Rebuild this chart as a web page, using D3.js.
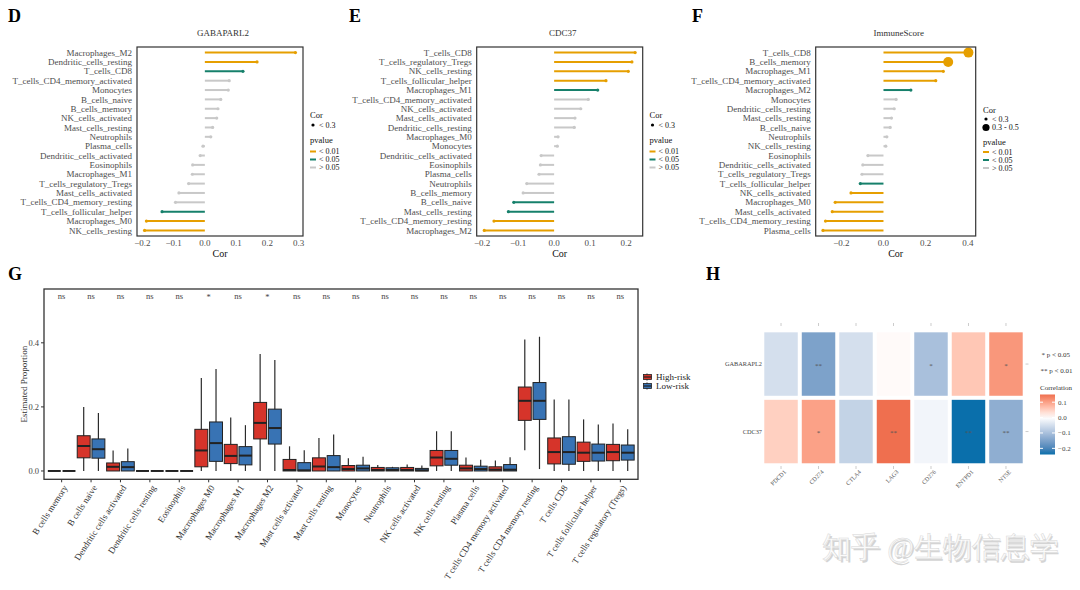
<!DOCTYPE html>
<html>
<head>
<meta charset="utf-8">
<script src="https://cdn.jsdelivr.net/npm/d3@7"></script>
<style>
  body { margin: 0; background: #fff; }
  svg text { font-family: "Liberation Serif", "DejaVu Serif", serif; }
</style>
</head>
<body>
<script>
// ---- data ----
const P1 = "< 0.01", P2 = "< 0.05", P3 = "> 0.05";

const dCells = ["Macrophages_M2", "Dendritic_cells_resting", "T_cells_CD8", "T_cells_CD4_memory_activated",
  "Monocytes", "B_cells_naive", "B_cells_memory", "NK_cells_activated", "Mast_cells_resting", "Neutrophils",
  "Plasma_cells", "Dendritic_cells_activated", "Eosinophils", "Macrophages_M1", "T_cells_regulatory_Tregs",
  "Mast_cells_activated", "T_cells_CD4_memory_resting", "T_cells_follicular_helper", "Macrophages_M0", "NK_cells_resting"];
const dCor = [0.29, 0.167, 0.122, 0.078, 0.075, 0.051, 0.042, 0.038, 0.025, 0.019,
  -0.006, -0.015, -0.039, -0.040, -0.052, -0.083, -0.094, -0.137, -0.187, -0.193];
const dP = [P1, P1, P2, P3, P3, P3, P3, P3, P3, P3, P3, P3, P3, P3, P3, P3, P3, P2, P1, P1];

const eCells = ["T_cells_CD8", "T_cells_regulatory_Tregs", "NK_cells_resting", "T_cells_follicular_helper",
  "Macrophages_M1", "T_cells_CD4_memory_activated", "NK_cells_activated", "Mast_cells_activated",
  "Dendritic_cells_resting", "Macrophages_M0", "Monocytes", "Dendritic_cells_activated", "Eosinophils",
  "Plasma_cells", "Neutrophils", "B_cells_memory", "B_cells_naive", "Mast_cells_resting",
  "T_cells_CD4_memory_resting", "Macrophages_M2"];
const eCor = [0.225, 0.216, 0.206, 0.144, 0.121, 0.095, 0.074, 0.058, 0.056, 0.011,
  0.009, -0.036, -0.038, -0.042, -0.076, -0.086, -0.112, -0.127, -0.167, -0.194];
const eP = [P1, P1, P1, P1, P2, P3, P3, P3, P3, P3, P3, P3, P3, P3, P3, P3, P2, P2, P1, P1];

const fCells = ["T_cells_CD8", "B_cells_memory", "Macrophages_M1", "T_cells_CD4_memory_activated",
  "Macrophages_M2", "Monocytes", "Dendritic_cells_resting", "Mast_cells_resting", "B_cells_naive",
  "Neutrophils", "NK_cells_resting", "Eosinophils", "Dendritic_cells_activated", "T_cells_regulatory_Tregs",
  "T_cells_follicular_helper", "NK_cells_activated", "Macrophages_M0", "Mast_cells_activated",
  "T_cells_CD4_memory_resting", "Plasma_cells"];
const fCor = [0.403, 0.307, 0.284, 0.248, 0.130, 0.060, 0.051, 0.038, 0.032, 0.016,
  0.011, -0.074, -0.098, -0.102, -0.110, -0.154, -0.229, -0.243, -0.275, -0.287];
const fP = [P1, P1, P1, P1, P2, P3, P3, P3, P3, P3, P3, P3, P3, P3, P2, P1, P1, P1, P1, P1];

const gCells = ["B cells memory", "B cells naive", "Dendritic cells activated", "Dendritic cells resting",
  "Eosinophils", "Macrophages M0", "Macrophages M1", "Macrophages M2", "Mast cells activated",
  "Mast cells resting", "Monocytes", "Neutrophils", "NK cells activated", "NK cells resting", "Plasma cells",
  "T cells CD4 memory activated", "T cells CD4 memory resting", "T cells CD8", "T cells follicular helper",
  "T cells regulatory (Tregs)"];
// [min, q1, median, q3, max]
const gHigh = [[0, 0, 0, 0, 0.002], [0, 0.041, 0.078, 0.110, 0.200], [0, 0, 0.013, 0.025, 0.064],
  [0, 0, 0, 0, 0.001], [0, 0, 0, 0, 0.001], [0, 0.013, 0.064, 0.130, 0.290], [0, 0.023, 0.047, 0.083, 0.167],
  [0, 0.100, 0.150, 0.214, 0.365], [0, 0, 0.003, 0.036, 0.077], [0, 0, 0.014, 0.041, 0.103],
  [0, 0, 0.006, 0.017, 0.040], [0, 0, 0.003, 0.011, 0.019], [0, 0, 0.003, 0.011, 0.020],
  [0, 0.016, 0.042, 0.064, 0.124], [0, 0, 0.008, 0.018, 0.042], [0, 0, 0.004, 0.013, 0.033],
  [0.065, 0.158, 0.219, 0.262, 0.410], [0, 0.022, 0.059, 0.103, 0.223], [0, 0.030, 0.057, 0.090, 0.161],
  [0, 0.032, 0.059, 0.083, 0.148]];
const gLow = [[0, 0, 0, 0, 0.001], [0, 0.040, 0.068, 0.100, 0.181], [0, 0, 0.012, 0.029, 0.070],
  [0, 0, 0, 0, 0.001], [0, 0, 0, 0, 0.001], [0, 0.030, 0.087, 0.153, 0.318], [0, 0.019, 0.048, 0.076, 0.143],
  [0, 0.084, 0.134, 0.193, 0.346], [0, 0, 0.002, 0.026, 0.065], [0, 0, 0.012, 0.048, 0.114],
  [0, 0, 0.008, 0.018, 0.044], [0, 0, 0.003, 0.010, 0.013], [0, 0, 0.002, 0.008, 0.017],
  [0, 0.018, 0.038, 0.064, 0.124], [0, 0, 0.006, 0.015, 0.035], [0, 0, 0.004, 0.020, 0.043],
  [0.006, 0.161, 0.219, 0.276, 0.419], [0, 0.021, 0.059, 0.107, 0.223], [0, 0.031, 0.057, 0.084, 0.145],
  [0, 0.034, 0.057, 0.081, 0.130]];
const gSig = ["ns", "ns", "ns", "ns", "ns", "*", "ns", "*", "ns", "ns",
  "ns", "ns", "ns", "ns", "ns", "ns", "ns", "ns", "ns", "ns"];
const gGroups = ["High-risk", "Low-risk"];
const gTicks = [0, 0.2, 0.4];

const hGenes = ["PDCD1", "CD274", "CTLA4", "LAG3", "CD276", "ENTPD1", "NT5E"];
const hRows = ["GABARAPL2", "CDC37"];
const hCor = [[-0.05, -0.15, -0.05, 0.005, -0.10, 0.06, 0.11],
              [0.05, 0.10, -0.07, 0.15, -0.015, -0.24, -0.13]];
const hStar = [["", "**", "", "", "*", "", "*"],
               ["", "*", "", "**", "", "**", "**"]];
const hLegTicks = [0.1, 0, -0.1, -0.2];

// ---- drawing ----
const W = 1080, H = 590;
const svg = d3.select("body").append("svg").attr("width", W).attr("height", H);
svg.append("rect").attr("width", W).attr("height", H).attr("fill", "#fff");

const pColor = { [P1]: "#E69F00", [P2]: "#16806b", [P3]: "#c8c8c8" };
const fmt = d3.format(".1f");

function lollipop(o) {
  const g = svg.append("g");
  const ext = d3.extent(o.cor.concat(0));
  const pad = (ext[1] - ext[0]) * 0.05;
  const x = d3.scaleLinear().domain([ext[0] - pad, ext[1] + pad]).range([o.left, o.right]);
  const y = d3.scalePoint().domain(o.cells).range([o.top, o.bottom]).padding(0.6);
  const rows = o.cells.map((c, i) => ({ cell: c, cor: o.cor[i], p: o.pval[i] }));

  g.selectAll(".bar").data(rows).enter().append("line")
    .attr("x1", x(0)).attr("x2", d => x(d.cor))
    .attr("y1", d => y(d.cell)).attr("y2", d => y(d.cell))
    .attr("stroke", d => pColor[d.p]).attr("stroke-width", 2);
  g.selectAll(".dot").data(rows).enter().append("circle")
    .attr("cx", d => x(d.cor)).attr("cy", d => y(d.cell))
    .attr("r", d => Math.abs(d.cor) >= 0.3 ? 5 : 1.6)
    .attr("fill", d => pColor[d.p]);

  g.append("rect")
    .attr("x", o.left).attr("y", o.top)
    .attr("width", o.right - o.left).attr("height", o.bottom - o.top)
    .attr("fill", "none").attr("stroke", "#333").attr("stroke-width", 1.2);

  g.selectAll(".lab").data(rows).enter().append("text")
    .attr("x", o.left - 5).attr("y", d => y(d.cell)).attr("dy", "0.35em")
    .attr("text-anchor", "end").attr("font-size", 9).attr("fill", "#4d4d4d")
    .text(d => d.cell);

  g.selectAll(".tick").data(o.ticks).enter().append("text")
    .attr("x", d => x(d)).attr("y", o.bottom + 10)
    .attr("text-anchor", "middle").attr("font-size", 9).attr("fill", "#4d4d4d")
    .text(d => fmt(d));

  g.append("text").attr("x", (o.left + o.right) / 2).attr("y", o.bottom + 21)
    .attr("text-anchor", "middle").attr("font-size", 10).attr("fill", "#111").text("Cor");
  g.append("text").attr("x", (o.left + o.right) / 2 + 3).attr("y", o.top - 11)
    .attr("text-anchor", "middle").attr("font-size", 9).attr("fill", "#333").text(o.title);

  // legend
  const lx = o.legX, l = o.leg;
  g.append("text").attr("x", lx).attr("y", l.cor + 3).attr("font-size", 8.5).attr("fill", "#111").text("Cor");
  l.sizes.forEach(s => {
    g.append("circle").attr("cx", lx + 3).attr("cy", s.y).attr("r", s.r).attr("fill", "#000");
    g.append("text").attr("x", lx + 9).attr("y", s.y + 2.8).attr("font-size", 8).attr("fill", "#111").text(s.label);
  });
  g.append("text").attr("x", lx).attr("y", l.pv + 3).attr("font-size", 8.5).attr("fill", "#111").text("pvalue");
  [P1, P2, P3].forEach((p, i) => {
    const yy = l.rows[i];
    g.append("line").attr("x1", lx).attr("x2", lx + 6).attr("y1", yy).attr("y2", yy)
      .attr("stroke", pColor[p]).attr("stroke-width", 2);
    g.append("text").attr("x", lx + 9).attr("y", yy + 2.8).attr("font-size", 8).attr("fill", "#111").text(p);
  });
}

lollipop({ cells: dCells, cor: dCor, pval: dP, left: 137, right: 303, top: 47, bottom: 236,
  title: "GABAPARL2", ticks: [-0.2, -0.1, 0, 0.1, 0.2, 0.3], legX: 310,
  leg: { cor: 115, sizes: [{ y: 125, r: 1.6, label: "< 0.3" }], pv: 140, rows: [151.5, 159.5, 167.5] } });
lollipop({ cells: eCells, cor: eCor, pval: eP, left: 476.7, right: 642.7, top: 47, bottom: 236,
  title: "CDC37", ticks: [-0.2, -0.1, 0, 0.1, 0.2], legX: 649.5,
  leg: { cor: 115, sizes: [{ y: 125, r: 1.6, label: "< 0.3" }], pv: 140, rows: [151.5, 159.5, 167.5] } });
lollipop({ cells: fCells, cor: fCor, pval: fP, left: 815.7, right: 975.7, top: 47, bottom: 236,
  title: "ImmuneScore", ticks: [-0.2, 0, 0.2, 0.4], legX: 983,
  leg: { cor: 109.5, sizes: [{ y: 119, r: 1.6, label: "< 0.3" }, { y: 127.5, r: 3.6, label: "0.3 - 0.5" }],
    pv: 142, rows: [152, 160, 168] } });

// ---- panel G: box plots ----
const gLeft = 44, gRight = 638, gTop = 289, gBottom = 479.3;
const gx = d3.scalePoint().domain(gCells).range([gLeft, gRight]).padding(0.6);
const gy = d3.scaleLinear().domain([-0.026, 0.568]).range([gBottom, gTop]);
const gCol = d3.scaleOrdinal().domain(gGroups).range(["#d6342a", "#3873b4"]);
const step = gx.step(), half = step * 0.22, off = step * 0.25;
const gG = svg.append("g");

const boxes = [];
gCells.forEach((c, i) => {
  boxes.push({ cell: c, grp: gGroups[0], v: gHigh[i], dx: -off });
  boxes.push({ cell: c, grp: gGroups[1], v: gLow[i], dx: off });
});
const bx = gG.selectAll(".box").data(boxes).enter().append("g")
  .attr("transform", d => `translate(${gx(d.cell) + d.dx},0)`);
bx.append("line").attr("y1", d => gy(d.v[0])).attr("y2", d => gy(d.v[4]))
  .attr("stroke", "#2b2b2b").attr("stroke-width", 1.2);
bx.append("rect").attr("x", -half).attr("width", half * 2)
  .attr("y", d => gy(d.v[3])).attr("height", d => gy(d.v[1]) - gy(d.v[3]))
  .attr("fill", d => gCol(d.grp)).attr("stroke", "#222").attr("stroke-width", 1);
bx.append("line").attr("x1", -half).attr("x2", half)
  .attr("y1", d => gy(d.v[2])).attr("y2", d => gy(d.v[2]))
  .attr("stroke", "#222").attr("stroke-width", 2);

gG.append("rect").attr("x", gLeft).attr("y", gTop).attr("width", gRight - gLeft).attr("height", gBottom - gTop)
  .attr("fill", "none").attr("stroke", "#333").attr("stroke-width", 1.3);

gG.selectAll(".sig").data(gCells).enter().append("text")
  .attr("x", d => gx(d)).attr("y", (d, i) => gSig[i] === "*" ? 300 : 299)
  .attr("text-anchor", "middle").attr("font-size", 8.5).attr("fill", "#444")
  .text((d, i) => gSig[i]);

gG.selectAll(".xt").data(gCells).enter().append("line")
  .attr("x1", d => gx(d)).attr("x2", d => gx(d)).attr("y1", gBottom).attr("y2", gBottom + 3)
  .attr("stroke", "#333").attr("stroke-width", 1);
gG.selectAll(".xl").data(gCells).enter().append("text")
  .attr("transform", d => `translate(${gx(d) + 1},${gBottom + 5}) rotate(-57)`)
  .attr("text-anchor", "end").attr("dy", "0.7em").attr("font-size", 9).attr("fill", "#333")
  .text(d => d);

gG.selectAll(".yt").data(gTicks).enter().append("line")
  .attr("x1", gLeft - 3).attr("x2", gLeft).attr("y1", d => gy(d)).attr("y2", d => gy(d))
  .attr("stroke", "#333");
gG.selectAll(".yl").data(gTicks).enter().append("text")
  .attr("x", gLeft - 5).attr("y", d => gy(d)).attr("dy", "0.35em")
  .attr("text-anchor", "end").attr("font-size", 8.5).attr("fill", "#444").text(d => fmt(d));
gG.append("text").attr("transform", `translate(27,${(gTop + gBottom) / 2}) rotate(-90)`)
  .attr("text-anchor", "middle").attr("font-size", 9).attr("fill", "#333").text("Estimated Proportion");

gGroups.forEach((grp, i) => {
  const yy = 377 + i * 9;
  gG.append("line").attr("x1", 647).attr("x2", 647).attr("y1", yy - 3.5).attr("y2", yy + 3.5).attr("stroke", "#222");
  gG.append("rect").attr("x", 643.5).attr("y", yy - 2.5).attr("width", 8).attr("height", 5)
    .attr("fill", gCol(grp)).attr("stroke", "#222").attr("stroke-width", 0.8);
  gG.append("line").attr("x1", 643.5).attr("x2", 651.5).attr("y1", yy).attr("y2", yy).attr("stroke", "#222").attr("stroke-width", 1.2);
  gG.append("text").attr("x", 656).attr("y", yy + 3).attr("font-size", 9).attr("fill", "#222").text(grp);
});

// ---- panel H: heatmap ----
const hx = d3.scaleBand().domain(hGenes).range([762.3, 1024.7]).paddingInner(0.107).paddingOuter(0.053);
const hy = d3.scaleBand().domain(hRows).range([330.3, 465.3]).paddingInner(0.06).paddingOuter(0.03);
const hColor = d3.scaleLinear().domain([-0.24, 0, 0.15]).range(["#0a6fab", "#ffffff", "#ef6f4f"])
  .interpolate(d3.interpolateLab);
const hG = svg.append("g");
const cells = [];
hRows.forEach((r, i) => hGenes.forEach((c, j) => cells.push({ r, c, v: hCor[i][j], s: hStar[i][j] })));
hG.selectAll(".cell").data(cells).enter().append("rect")
  .attr("x", d => hx(d.c)).attr("y", d => hy(d.r))
  .attr("width", hx.bandwidth()).attr("height", hy.bandwidth())
  .attr("fill", d => hColor(d.v));
hG.selectAll(".star").data(cells).enter().append("text")
  .attr("x", d => hx(d.c) + hx.bandwidth() / 2).attr("y", d => hy(d.r) + hy.bandwidth() / 2)
  .attr("dy", "0.55em").attr("text-anchor", "middle").attr("font-size", 7).attr("fill", "#555")
  .text(d => d.s);

hG.selectAll(".tt").data(hGenes).enter().append("line")
  .attr("x1", d => hx(d) + hx.bandwidth() / 2).attr("x2", d => hx(d) + hx.bandwidth() / 2)
  .attr("y1", 323).attr("y2", 326).attr("stroke", "#ccc");
hG.selectAll(".bt").data(hGenes).enter().append("line")
  .attr("x1", d => hx(d) + hx.bandwidth() / 2).attr("x2", d => hx(d) + hx.bandwidth() / 2)
  .attr("y1", 466).attr("y2", 469).attr("stroke", "#ccc");
hG.selectAll(".rt").data(hRows).enter().append("line")
  .attr("x1", 1025.5).attr("x2", 1028.5)
  .attr("y1", d => hy(d) + hy.bandwidth() / 2).attr("y2", d => hy(d) + hy.bandwidth() / 2).attr("stroke", "#ccc");
hG.selectAll(".rl").data(hRows).enter().append("text")
  .attr("x", 762).attr("y", d => hy(d) + hy.bandwidth() / 2).attr("dy", "0.35em")
  .attr("text-anchor", "end").attr("font-size", 6.3).attr("fill", "#444").text(d => d);
hG.selectAll(".cl").data(hGenes).enter().append("text")
  .attr("transform", d => `translate(${hx(d) + hx.bandwidth() / 2 + 4},471) rotate(-45)`)
  .attr("text-anchor", "end").attr("dy", "0.35em").attr("font-size", 6).attr("fill", "#555").text(d => d);

hG.append("text").attr("x", 1041.5).attr("y", 356.5).attr("font-size", 7).attr("fill", "#333").text("* p < 0.05");
hG.append("text").attr("x", 1040.5).attr("y", 372.5).attr("font-size", 7).attr("fill", "#333").text("** p < 0.01");
hG.append("text").attr("x", 1040).attr("y", 389.5).attr("font-size", 7).attr("fill", "#333").text("Correlation");
const hLeg = d3.scaleLinear().domain([-0.24, 0.15]).range([454.5, 394.5]);
const grad = svg.append("defs").append("linearGradient").attr("id", "hgrad")
  .attr("x1", 0).attr("y1", 1).attr("x2", 0).attr("y2", 0);
d3.range(0, 1.0001, 0.1).forEach(t => {
  grad.append("stop").attr("offset", t).attr("stop-color", hColor(-0.24 + t * 0.39));
});
hG.append("rect").attr("x", 1040).attr("y", hLeg(0.15)).attr("width", 15)
  .attr("height", hLeg(-0.24) - hLeg(0.15)).attr("fill", "url(#hgrad)");
hG.selectAll(".lt").data(hLegTicks).enter().append("line")
  .attr("x1", 1040).attr("x2", 1043).attr("y1", d => hLeg(d)).attr("y2", d => hLeg(d)).attr("stroke", "#fff");
hG.selectAll(".lt2").data(hLegTicks).enter().append("line")
  .attr("x1", 1052).attr("x2", 1055).attr("y1", d => hLeg(d)).attr("y2", d => hLeg(d)).attr("stroke", "#fff");
hG.selectAll(".ll").data(hLegTicks).enter().append("text")
  .attr("x", 1058).attr("y", d => hLeg(d)).attr("dy", "0.35em").attr("font-size", 7).attr("fill", "#444")
  .text(d => fmt(d));

// ---- panel letters ----
[["D", 8, 22], ["E", 349, 22], ["F", 692, 22], ["G", 8, 280], ["H", 706, 280]].forEach(([t, x, y]) => {
  svg.append("text").attr("x", x).attr("y", y).attr("font-size", 18).attr("font-weight", "bold")
    .attr("fill", "#000").text(t);
});

// ---- watermark ----
svg.append("text").attr("x", 823.5).attr("y", 558.5).attr("font-size", 29)
  .attr("font-family", "Noto Sans CJK SC").attr("fill", "#d4d4d4").text("知乎 @生物信息学");
svg.append("text").attr("x", 822).attr("y", 557).attr("font-size", 29)
  .attr("font-family", "Noto Sans CJK SC").attr("fill", "#fbfbfb").attr("stroke", "#d8d8d8")
  .attr("stroke-width", 0.5).text("知乎 @生物信息学");
</script>
</body>
</html>
